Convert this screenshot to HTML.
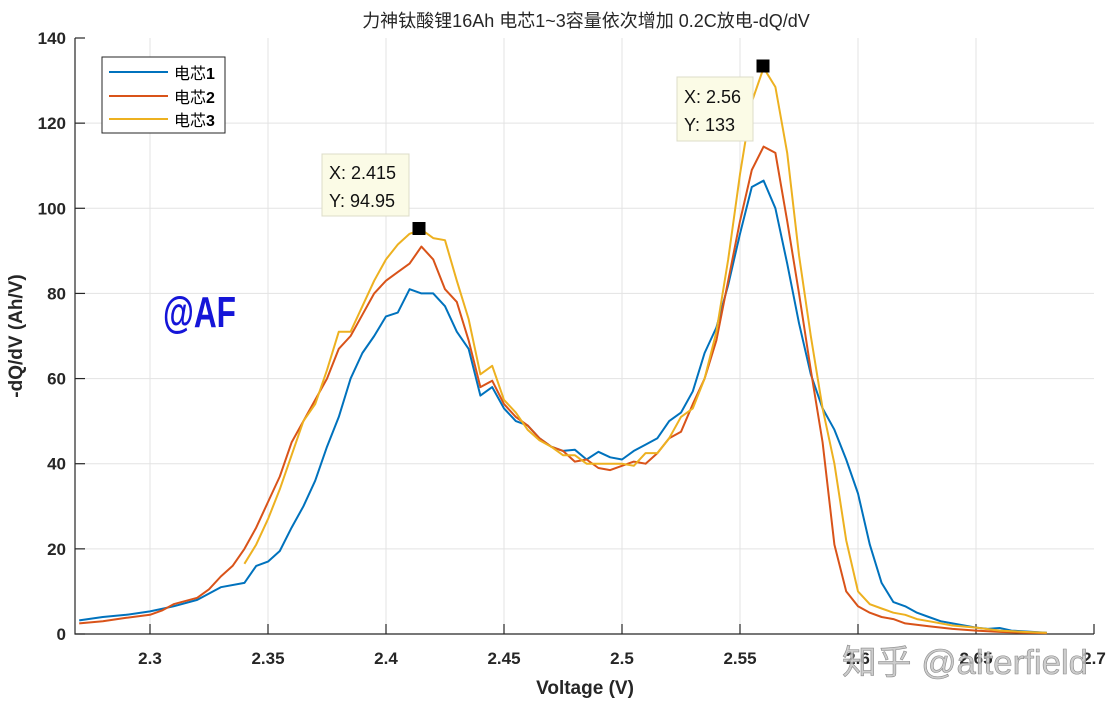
<!DOCTYPE html>
<html><head><meta charset="utf-8"><style>
html,body{margin:0;padding:0;background:#fff;}
svg{display:block;font-family:"Liberation Sans","Noto Sans CJK SC",sans-serif;}
</style></head><body>
<svg id="s" width="1118" height="711" viewBox="0 0 1118 711" xmlns="http://www.w3.org/2000/svg">
<rect width="1118" height="711" fill="#fff"/>
<g id="grid" stroke="#e3e3e3" stroke-width="1"></g>
<g id="axes" stroke="#262626" stroke-width="1.2" fill="none"></g>
<g id="ticks" font-size="17" font-weight="bold" fill="#262626"></g>
<text x="586" y="27" font-size="18" text-anchor="middle" fill="#262626">力神钛酸锂16Ah 电芯1~3容量依次增加 0.2C放电-dQ/dV</text>
<text x="585" y="694" font-size="19" font-weight="bold" text-anchor="middle" fill="#262626">Voltage (V)</text>
<text transform="translate(22,336) rotate(-90)" font-size="19" font-weight="bold" text-anchor="middle" fill="#262626">-dQ/dV (Ah/V)</text>
<g id="lines" fill="none" stroke-width="2" stroke-linejoin="round"></g>
<text x="163" y="327" font-size="44" font-weight="bold" fill="#1515d8" textLength="73" lengthAdjust="spacingAndGlyphs">@AF</text>
<rect x="102" y="57" width="123" height="76" fill="#fff" stroke="#262626" stroke-width="1"/>
<line x1="109" y1="72" x2="168" y2="72" stroke="#0072BD" stroke-width="2"/>
<line x1="109" y1="96" x2="168" y2="96" stroke="#D95319" stroke-width="2"/>
<line x1="109" y1="119" x2="168" y2="119" stroke="#EDB120" stroke-width="2"/>
<text x="174" y="79" font-size="16" fill="#000">电芯<tspan font-weight="bold">1</tspan></text>
<text x="174" y="103" font-size="16" fill="#000">电芯<tspan font-weight="bold">2</tspan></text>
<text x="174" y="126" font-size="16" fill="#000">电芯<tspan font-weight="bold">3</tspan></text>
<rect x="322" y="154" width="87" height="62" fill="#fbfbe6" stroke="#ddddc8"/>
<text x="329" y="179" font-size="18" fill="#111">X: 2.415</text>
<text x="329" y="207" font-size="18" fill="#111">Y: 94.95</text>
<rect x="412.5" y="222" width="13" height="13" fill="#000"/>
<rect x="677" y="77" width="76" height="64" fill="#fbfbe6" stroke="#ddddc8"/>
<text x="684" y="103" font-size="18" fill="#111">X: 2.56</text>
<text x="684" y="131" font-size="18" fill="#111">Y: 133</text>
<rect x="756.5" y="59.5" width="13" height="13" fill="#000"/>
<text x="842" y="674" font-size="34" fill="#c4c4c4" fill-opacity="0.85" stroke="#8a8a8a" stroke-width="0.6" textLength="246" lengthAdjust="spacingAndGlyphs">知乎 @alterfield</text>
</svg>
<script>
var X=function(v){return 622+(v-2.5)*2360;}, Y=function(v){return 634-v*596/140;};
var ns="http://www.w3.org/2000/svg";
function el(p,t,a){var e=document.createElementNS(ns,t);for(var k in a)e.setAttribute(k,a[k]);p.appendChild(e);return e;}
var g=document.getElementById('grid'),ax=document.getElementById('axes'),tk=document.getElementById('ticks');
[2.3,2.35,2.4,2.45,2.5,2.55,2.6,2.65].forEach(function(v){var x=X(v);el(g,'line',{x1:x,x2:x,y1:38,y2:634});});
for(var v=20;v<=120;v+=20){el(g,'line',{x1:75,x2:1094,y1:Y(v),y2:Y(v)});}
el(ax,'path',{d:'M75,38V634H1094'});
[2.3,2.35,2.4,2.45,2.5,2.55,2.6,2.65,2.7].forEach(function(v){var x=X(v);el(ax,'line',{x1:x,x2:x,y1:634,y2:624});var t=el(tk,'text',{x:x,y:664,'text-anchor':'middle'});t.textContent=String(v);});
for(var v=0;v<=140;v+=20){var y=Y(v);el(ax,'line',{x1:75,x2:85,y1:y,y2:y});var t=el(tk,'text',{x:66,y:y+6,'text-anchor':'end'});t.textContent=v;}
var b=[2.27,3.2,2.28,4,2.29,4.5,2.30,5.3,2.31,6.5,2.32,8,2.33,11,2.34,12,2.345,16,2.35,17,2.355,19.5,2.36,25,2.365,30,2.37,36,2.375,44,2.38,51,2.385,60,2.39,66,2.395,70,2.40,74.6,2.405,75.5,2.41,81,2.415,80,2.42,80,2.425,77,2.43,71,2.435,67,2.44,56,2.445,58,2.45,53,2.455,50,2.46,49,2.465,46,2.47,44,2.475,43,2.48,43.3,2.485,41,2.49,42.8,2.495,41.5,2.50,41,2.505,43,2.51,44.5,2.515,46,2.52,50,2.525,52,2.53,57,2.535,66,2.54,72,2.545,82,2.55,94,2.555,105,2.56,106.5,2.565,100,2.57,87,2.575,73,2.58,61,2.585,53,2.59,48,2.595,41,2.60,33,2.605,21,2.61,12,2.615,7.5,2.62,6.5,2.625,5,2.63,4,2.635,3,2.64,2.5,2.65,1.5,2.655,1.2,2.66,1.4,2.665,0.8,2.68,0.3];
var r=[2.27,2.5,2.28,3,2.29,3.8,2.30,4.5,2.305,5.5,2.31,7,2.32,8.5,2.325,10.5,2.33,13.5,2.335,16,2.34,20,2.345,25,2.35,31,2.355,37,2.36,45,2.365,50,2.37,55,2.375,60,2.38,67,2.385,70,2.39,75,2.395,80,2.40,83,2.405,85,2.41,87,2.415,91,2.42,88,2.425,81,2.43,78,2.435,69,2.44,58,2.445,59.5,2.45,54,2.455,51,2.46,49,2.465,46,2.47,44,2.475,43,2.48,40.5,2.485,41,2.49,39,2.495,38.5,2.50,39.5,2.505,40.5,2.51,40,2.515,42.5,2.52,46,2.525,47.5,2.53,54,2.535,60,2.54,69,2.545,83,2.55,97,2.555,109,2.56,114.5,2.565,113,2.57,97,2.575,80,2.58,62,2.585,45,2.59,21,2.595,10,2.60,6.5,2.605,5,2.61,4,2.615,3.5,2.62,2.5,2.63,1.8,2.64,1.2,2.65,0.8,2.66,0.5,2.67,0.3,2.68,0.2];
var y3=[2.34,16.5,2.345,21,2.35,27,2.355,34,2.36,42,2.365,50,2.37,54,2.375,62,2.38,71,2.385,71,2.39,77,2.395,83,2.40,88,2.405,91.5,2.41,94,2.415,95,2.42,93,2.425,92.5,2.43,83,2.435,74,2.44,61,2.445,63,2.45,55,2.455,52,2.46,48,2.465,45.5,2.47,44,2.475,42,2.48,42,2.485,40,2.49,40,2.495,40,2.50,40,2.505,39.5,2.51,42.5,2.515,42.5,2.52,46,2.525,51,2.53,53,2.535,60,2.54,71,2.545,88,2.55,108,2.555,125,2.56,133,2.565,128.5,2.57,113,2.575,89,2.58,70,2.585,53,2.59,40,2.595,22,2.60,10,2.605,7,2.61,6,2.615,5,2.62,4.5,2.625,3.5,2.63,3,2.64,2,2.65,1.5,2.66,0.8,2.67,0.5,2.68,0.3];
var L=document.getElementById('lines');
[[b,'#0072BD'],[r,'#D95319'],[y3,'#EDB120']].forEach(function(s){var a=s[0],d='';for(var i=0;i<a.length;i+=2)d+=(i?'L':'M')+X(a[i]).toFixed(1)+','+Y(a[i+1]).toFixed(1);el(L,'path',{d:d,stroke:s[1]});});
</script>
</body></html>
